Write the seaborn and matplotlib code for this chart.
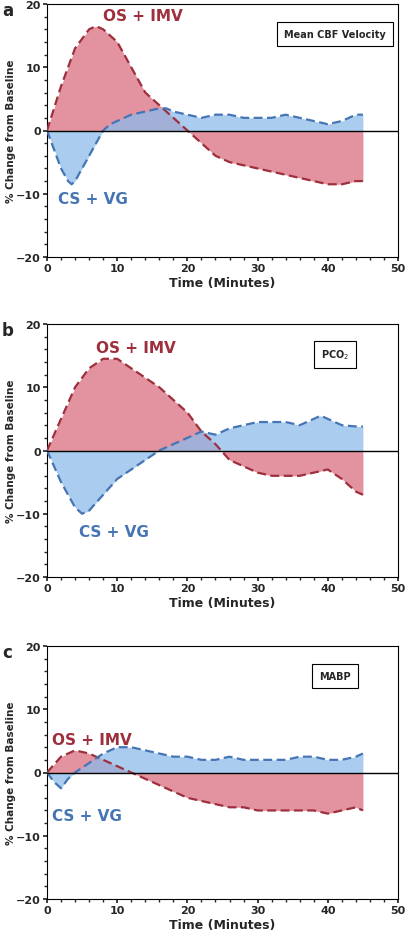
import matplotlib
matplotlib.use("Agg")
import matplotlib.pyplot as plt
import seaborn as sns
import numpy as np
import pandas as pd

sns.set_theme(style="white")
plt.rcParams['font.family'] = ['DejaVu Sans']

a_red_x = [0,2,4,6,7,8,10,12,14,16,18,20,22,24,26,28,30,32,34,36,38,40,42,44,45]
a_red_y = [0,7,13,16,16.5,16,14,10,6,4,2,0,-2,-4,-5,-5.5,-6,-6.5,-7,-7.5,-8,-8.5,-8.5,-8,-8]
a_blue_x = [0,1,2,3,3.5,4,5,6,7,8,9,10,12,14,16,17,18,20,22,24,26,28,30,32,34,36,38,40,42,44,45]
a_blue_y = [0,-3,-6,-8,-8.5,-8,-6,-4,-2,0,1,1.5,2.5,3,3.5,3.5,3,2.5,2,2.5,2.5,2,2,2,2.5,2,1.5,1,1.5,2.5,2.5]

b_red_x = [0,2,4,6,8,10,12,14,16,18,20,22,24,26,28,30,32,34,36,38,40,42,44,45]
b_red_y = [0,5,10,13,14.5,14.5,13,11.5,10,8,6,3,1,-1.5,-2.5,-3.5,-4,-4,-4,-3.5,-3,-4.5,-6.5,-7]
b_blue_x = [0,2,4,5,6,8,10,12,14,16,18,20,22,24,26,28,30,32,34,36,38,39,40,42,44,45]
b_blue_y = [0,-5,-9,-10,-9.5,-7,-4.5,-3,-1.5,0,1,2,3,2.5,3.5,4,4.5,4.5,4.5,4,5,5.5,5,4,3.8,3.8]

c_red_x = [0,2,4,6,8,10,12,14,16,18,20,22,24,26,28,30,32,34,36,38,40,42,44,45]
c_red_y = [0,2.5,3.5,3,2,1,0,-1,-2,-3,-4,-4.5,-5,-5.5,-5.5,-6,-6,-6,-6,-6,-6.5,-6,-5.5,-6]
c_blue_x = [0,1,2,3,4,6,8,10,12,14,16,18,20,22,24,26,28,30,32,34,36,38,40,42,44,45]
c_blue_y = [0,-1.5,-2.5,-1,0,1.5,3,4,4,3.5,3,2.5,2.5,2,2,2.5,2,2,2,2,2.5,2.5,2,2,2.5,3]

panels = [
    ("a", "Mean CBF Velocity", a_red_x, a_red_y, a_blue_x, a_blue_y, (8, 17.5), (1.5, -11.5)),
    ("b", "PCO$_2$", b_red_x, b_red_y, b_blue_x, b_blue_y, (7, 15.5), (4.5, -13.5)),
    ("c", "MABP", c_red_x, c_red_y, c_blue_x, c_blue_y, (0.7, 4.5), (0.7, -7.5)),
]
tops = [5, 325, 647]
RED_F, BLUE_F = "#de7f8e", "#8dbbea"
RED_L, BLUE_L = "#9e2f3c", "#4575b4"

fig = plt.figure(figsize=(4.06, 9.45), dpi=100)
for (lab, title, rx, ry, bx, by, rpos, bpos), top in zip(panels, tops):
    ax = fig.add_axes([47/406, 1 - (top+253)/945, 351/406, 253/945])
    ax.fill_between(rx, ry, 0, color=RED_F, alpha=0.85, lw=0, zorder=1)
    ax.fill_between(bx, by, 0, color=BLUE_F, alpha=0.75, lw=0, zorder=2)
    sns.lineplot(x=rx, y=ry, ax=ax, color=RED_L, lw=1.6, ls=(0, (4, 2)), zorder=3)
    sns.lineplot(x=bx, y=by, ax=ax, color=BLUE_L, lw=1.6, ls=(0, (4, 2)), zorder=3)
    ax.axhline(0, color="black", lw=1, zorder=4)
    ax.set_xlim(0, 50); ax.set_ylim(-20, 20)
    ax.set_xticks([0, 10, 20, 30, 40, 50])
    ax.set_yticks([-20, -10, 0, 10, 20])
    ax.set_yticks(np.arange(-20, 21, 2), minor=True)
    ax.set_xticks(np.arange(0, 51, 2), minor=True)
    ax.tick_params(axis="both", which="major", direction="out", length=3, labelsize=8, pad=1.5, left=True, bottom=True)
    ax.tick_params(axis="both", which="minor", direction="out", length=2, left=True, bottom=True)
    for t in ax.get_xticklabels() + ax.get_yticklabels():
        t.set_fontweight("bold")
    for s in ax.spines.values():
        s.set_color("black"); s.set_linewidth(0.8)
    ax.set_xlabel("Time (Minutes)", fontsize=9, fontweight="bold", labelpad=2)
    ax.set_ylabel("% Change from Baseline", fontsize=7.5, fontweight="bold", labelpad=1)
    ax.yaxis.set_label_coords(-0.088, 0.5)
    ax.text(*rpos, "OS + IMV", color=RED_L, fontsize=11, fontweight="bold")
    ax.text(*bpos, "CS + VG", color=BLUE_L, fontsize=11, fontweight="bold")
    ax.text(0.82, 0.88, title, transform=ax.transAxes, ha="center", va="center",
            fontsize=7, fontweight="bold",
            bbox=dict(facecolor="white", edgecolor="black", lw=0.8, pad=5))
    fig.text(2/406, 1 - (top-3)/945, lab, fontsize=12, fontweight="bold", va="top")

fig.savefig("out.png", dpi=100)
